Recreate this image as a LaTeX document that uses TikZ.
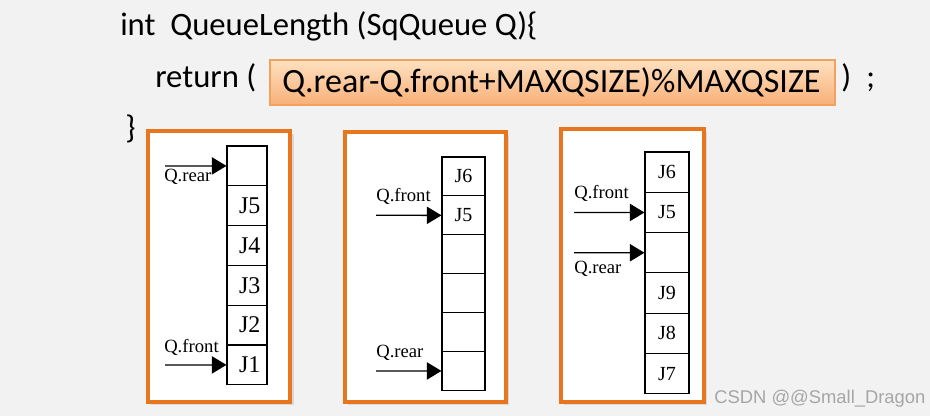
\documentclass[tikz,border=0pt]{standalone}
\usepackage{fontspec}
\setmainfont{Carlito}
\newfontfamily\cellfont{Liberation Serif}
\newfontfamily\wmfont{Liberation Sans}
\usetikzlibrary{arrows.meta}
\definecolor{bg}{HTML}{F2F2F2}
\definecolor{frameorange}{HTML}{E8761E}
\definecolor{boxtop}{HTML}{FEE0C0}
\definecolor{boxbot}{HTML}{F8B078}
\definecolor{boxline}{HTML}{F2A25E}
\definecolor{wmgray}{HTML}{A6A6A6}
\tikzset{
  codetext/.style={inner sep=0pt, font=\fontsize{24.5}{29}\selectfont, text=black},
  exprtext/.style={inner sep=0pt, font=\fontsize{25.5}{30}\selectfont, text=black},
  hlbox/.style={draw=boxline, line width=0.8pt, top color=boxtop, bottom color=boxbot,
    minimum width=423.75pt, minimum height=33.75pt, inner sep=0pt},
  panel/.style={draw=frameorange, line width=2.4pt, fill=white},
  pshadow/.style={fill=black!15},
  cellA/.style={draw=black, line width=0.8pt, minimum width=30pt, minimum height=29.85pt,
    inner sep=0pt, font=\cellfont\fontsize{18}{18}\selectfont},
  cellB/.style={draw=black, line width=0.8pt, minimum width=32.25pt, minimum height=29.2pt,
    inner sep=0pt, font=\cellfont\fontsize{15}{15}\selectfont},
  cellC/.style={draw=black, line width=0.8pt, minimum width=33pt, minimum height=30.2pt,
    inner sep=0pt, font=\cellfont\fontsize{15}{15}\selectfont},
  ptr/.style={line width=1pt, -{Triangle[length=11pt, width=13pt]}},
  plabel/.style={inner sep=0pt, font=\cellfont\fontsize{14}{14}\selectfont},
  wm/.style={inner sep=0pt, font=\wmfont\fontsize{13.8}{13.8}\selectfont, text=wmgray}
}
\begin{document}
\begin{tikzpicture}[x=0.75pt,y=-0.75pt]
\fill[bg] (0,0) rectangle (930,416);
\useasboundingbox (0,0) rectangle (930,416);

% code text
\node[codetext, anchor=base west] (l1) at (120,36) {int\ \ QueueLength (SqQueue Q)\{};
\node[codetext, anchor=base west] (l2) at (155,88) {return (};
\node[hlbox] (expr) at (552.5,82.5) {};
\node[exprtext, anchor=base west] (exprtxt) at (282,93) {Q.rear-Q.front+MAXQSIZE)\%MAXQSIZE};
\node[codetext, anchor=base west] (rp) at (841,88) {)};
\node[codetext, anchor=base west] (semi) at (866,88) {;};
\node[codetext, anchor=base west] (l3) at (125,139) {\}};

% panels
\fill[pshadow] (151,134) rectangle (294,405);
\fill[pshadow] (348,135) rectangle (509,405);
\fill[pshadow] (564,132) rectangle (707,405);
\draw[panel] (148,131) rectangle (290,402);
\draw[panel] (345,132) rectangle (506,402);
\draw[panel] (561,129) rectangle (704,402);

% panel 1
\foreach \t [count=\i] in {{},J5,J4,J3,J2,J1}
  \node[cellA] (a\i) at (247,{146+39.8*\i-19.9}) {\hspace{4pt}\t};
\coordinate (ar) at (165,166);
\coordinate (af) at (165,365);
\draw[ptr] (ar) -- (a1.west);
\draw[ptr] (af) -- (a6.west);
\node[plabel, anchor=north west] (arl) at (164,169) {Q.rear};
\node[plabel, anchor=south west] (afl) at (164,356) {Q.front};

% panel 2
\foreach \t [count=\i] in {J6,J5,{},{},{},{}}
  \node[cellB] (b\i) at (463.5,{157+38.9*\i-19.45}) {\t};
\coordinate (bf) at (376,215.3);
\coordinate (br) at (376,371);
\draw[ptr] (bf) -- (b2.west);
\draw[ptr] (br) -- (b6.west);
\node[plabel, anchor=south west] (bfl) at (376,205) {Q.front};
\node[plabel, anchor=south west] (brl) at (376,361) {Q.rear};

% panel 3
\foreach \t [count=\i] in {J6,J5,{},J9,J8,J7}
  \node[cellC] (c\i) at (667,{152+40.3*\i-20.15}) {\t};
\coordinate (cf) at (574,212.5);
\coordinate (cr) at (574,252.8);
\draw[ptr] (cf) -- (c2.west);
\draw[ptr] (cr) -- (c3.west);
\node[plabel, anchor=south west] (cfl) at (574,202) {Q.front};
\node[plabel, anchor=north west] (crl) at (574,261) {Q.rear};

% watermark
\node[wm, anchor=base west] (wmk) at (714,403) {CSDN @@Small\_Dragon};
\end{tikzpicture}
\end{document}
